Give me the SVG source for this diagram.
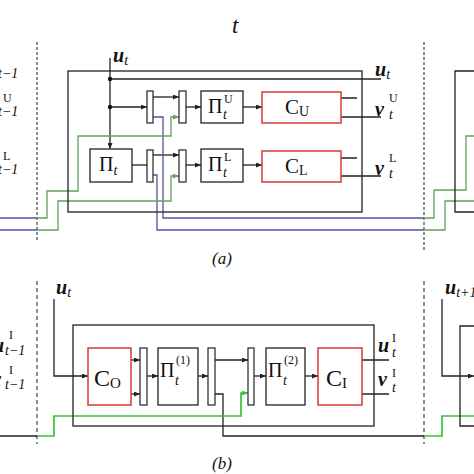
<svg xmlns="http://www.w3.org/2000/svg" width="474" height="474" viewBox="0 0 474 474">
<defs>
<style>
.ln{fill:none;stroke:#222;stroke-width:1.3}
.bl{fill:none;stroke:#5252a3;stroke-width:1.3}
.gr{fill:none;stroke:#5ea35e;stroke-width:1.3}
.gb{fill:none;stroke:#36c436;stroke-width:1.7}
.dash{fill:none;stroke:#444;stroke-width:1.2;stroke-dasharray:3 2}
.box{fill:#fff;stroke:#222;stroke-width:1.3}
.red{fill:#fff;stroke:#d43a3a;stroke-width:1.5}
.bar{fill:#fff;stroke:#222;stroke-width:1.2}
.fr{fill:none;stroke:#222;stroke-width:1.3}
text{font-family:"Liberation Serif","DejaVu Serif",serif;fill:#111}
.mi{font-style:italic}
.bi{font-style:italic;font-weight:bold}
</style>
<marker id="ak" markerUnits="userSpaceOnUse" markerWidth="6" markerHeight="5" refX="6" refY="2.5" orient="auto"><path d="M0,0 L6,2.5 L0,5 z" fill="#222"/></marker>
<marker id="ag" markerUnits="userSpaceOnUse" markerWidth="6" markerHeight="5" refX="6" refY="2.5" orient="auto"><path d="M0,0 L6,2.5 L0,5 z" fill="#5ea35e"/></marker>
<marker id="ag2" markerUnits="userSpaceOnUse" markerWidth="6" markerHeight="5" refX="6" refY="2.5" orient="auto"><path d="M0,0 L6,2.5 L0,5 z" fill="#36c436"/></marker>
</defs>

<text x="232" y="33" class="mi" font-size="23">t</text>

<!-- dashed separators -->
<g id="separators">
<path class="dash" d="M37,42 V241 M424,42 V251"/>
<path class="dash" d="M37,281 V444 M424,281 V444" style="stroke-dasharray:4 3"/>
</g>

<!-- connectors -->
<g id="connectors">
<!-- (a) -->
<path class="ln" d="M110,58 V149" marker-end="url(#ak)"/>
<path class="ln" d="M110,79 H381"/>
<path class="ln" d="M110,107 H147" marker-end="url(#ak)"/>
<path class="ln" d="M153,97 H179" marker-end="url(#ak)"/>
<path class="ln" d="M186,107 H201" marker-end="url(#ak)"/>
<path class="ln" d="M243,107 H262" marker-end="url(#ak)"/>
<path class="ln" d="M341,98 H357 M341,117 H381"/>
<path class="ln" d="M132,165 H147"/>
<path class="ln" d="M153,155 H179" marker-end="url(#ak)"/>
<path class="ln" d="M186,165 H201" marker-end="url(#ak)"/>
<path class="ln" d="M243,165 H262" marker-end="url(#ak)"/>
<path class="ln" d="M341,158 H357 M341,176 H381"/>
<path class="bl" d="M153,117 H163 V218 H424"/>
<path class="bl" d="M153,175 H157 V230 H424"/>
<path class="bl" d="M0,218 H37 M0,230 H37"/>
<path class="gr" d="M37,218 H47 V191 H78 V136 H171 V117 H179" marker-end="url(#ag)"/>
<path class="gr" d="M37,230 H58 V201 H171 V176 H179" marker-end="url(#ag)"/>
<path class="gr" d="M424,218 H434 V190 H466 V136 H474"/>
<path class="gr" d="M424,230 H445 V201 H474"/>
<!-- (b) -->
<path class="ln" d="M54,299 V376 H88" marker-end="url(#ak)"/>
<path class="ln" d="M131,360 H140" marker-end="url(#ak)"/>
<path class="ln" d="M131,394 H140" marker-end="url(#ak)"/>
<path class="ln" d="M147,376 H158" marker-end="url(#ak)"/>
<path class="ln" d="M198,376 H208" marker-end="url(#ak)"/>
<path class="ln" d="M215,360 H248" marker-end="url(#ak)"/>
<path class="ln" d="M215,394 H223 V436 H424"/>
<path class="ln" d="M0,436 H37"/>
<path class="gb" d="M37,436 H54 V416 H241 V393 H248" marker-end="url(#ag2)"/>
<path class="gb" d="M424,436 H442 V416 H474"/>
<path class="ln" d="M254,376 H266" marker-end="url(#ak)"/>
<path class="ln" d="M305,376 H318" marker-end="url(#ak)"/>
<path class="ln" d="M362,360 H389 M362,394 H389"/>
<path class="ln" d="M442,299 V376 H474" marker-end="url(#ak)"/>
</g>

<!-- frames -->
<g id="frame-a">
<rect class="fr" x="68" y="71" width="294" height="141"/>
<path class="fr" d="M474,71 H455 V212 H474"/>
</g>
<g id="frame-b">
<rect class="fr" x="73" y="325" width="301" height="101"/>
<path class="fr" d="M474,326 H460 V426 H474"/>
</g>

<!-- dots -->
<g id="junctions">
<circle cx="110" cy="79" r="2.2" fill="#111"/>
<circle cx="110" cy="107" r="2.2" fill="#111"/>
</g>

<!-- (a) nodes -->
<g id="bar-a1u"><rect class="bar" x="147" y="91" width="6" height="32"/></g>
<g id="bar-a2u"><rect class="bar" x="179" y="91" width="7" height="32"/></g>
<g id="bar-a1l"><rect class="bar" x="147" y="150" width="6" height="32"/></g>
<g id="bar-a2l"><rect class="bar" x="179" y="150" width="7" height="32"/></g>

<g id="pi-t">
<rect class="box" x="90" y="149" width="42" height="33"/>
<text x="99" y="171" font-size="20">Π<tspan class="mi" font-size="14" dy="4">t</tspan></text>
</g>
<g id="pi-u">
<rect class="box" x="201" y="91" width="42" height="32"/>
<text x="208" y="113" font-size="20">Π</text>
<text x="224" y="103" font-size="12">U</text>
<text x="223" y="119" class="mi" font-size="14">t</text>
</g>
<g id="pi-l">
<rect class="box" x="201" y="149" width="42" height="33"/>
<text x="208" y="171" font-size="20">Π</text>
<text x="224" y="161" font-size="12">L</text>
<text x="223" y="177" class="mi" font-size="14">t</text>
</g>
<g id="c-u">
<rect class="red" x="262" y="92" width="79" height="31"/>
<text x="285" y="114" font-size="21">C<tspan font-size="14" dy="2">U</tspan></text>
</g>
<g id="c-l">
<rect class="red" x="262" y="151" width="79" height="31"/>
<text x="285" y="173" font-size="21">C<tspan font-size="14" dy="2">L</tspan></text>
</g>

<!-- (a) labels -->
<g id="labels-a">
<text x="113" y="62" class="bi" font-size="20">u<tspan class="mi" font-weight="normal" font-size="14" dy="3">t</tspan></text>
<text x="375" y="76" class="bi" font-size="20">u<tspan class="mi" font-weight="normal" font-size="14" dy="3">t</tspan></text>
<text x="375" y="116" class="bi" font-size="20">v</text>
<text x="389" y="102" font-size="12">U</text>
<text x="389" y="119" class="mi" font-size="14">t</text>
<text x="375" y="175" class="bi" font-size="20">v</text>
<text x="389" y="162" font-size="12">L</text>
<text x="389" y="178" class="mi" font-size="14">t</text>
<text x="-2" y="78" class="mi" font-size="14">t−1</text>
<text x="3" y="102" font-size="12">U</text>
<text x="-2" y="116" class="mi" font-size="14">t−1</text>
<text x="3" y="160" font-size="12">L</text>
<text x="-2" y="174" class="mi" font-size="14">t−1</text>
<text x="222" y="264" class="mi" font-size="17" text-anchor="middle">(a)</text>
</g>

<!-- (b) nodes -->
<g id="c-o">
<rect class="red" x="88" y="348" width="43" height="57"/>
<text x="94" y="386" font-size="24">C<tspan font-size="15" dy="2">O</tspan></text>
</g>
<g id="bar-b1"><rect class="bar" x="140" y="348" width="7" height="57"/></g>
<g id="pi-1">
<rect class="box" x="158" y="348" width="40" height="57"/>
<text x="160" y="377" font-size="20">Π</text>
<text x="176" y="364" font-size="12">(1)</text>
<text x="175" y="385" class="mi" font-size="14">t</text>
</g>
<g id="bar-b2"><rect class="bar" x="208" y="348" width="7" height="57"/></g>
<g id="bar-b3"><rect class="bar" x="248" y="348" width="6" height="57"/></g>
<g id="pi-2">
<rect class="box" x="266" y="348" width="39" height="57"/>
<text x="268" y="377" font-size="20">Π</text>
<text x="284" y="364" font-size="12">(2)</text>
<text x="283" y="385" class="mi" font-size="14">t</text>
</g>
<g id="c-i">
<rect class="red" x="318" y="348" width="44" height="57"/>
<text x="326" y="386" font-size="24">C<tspan font-size="15" dy="2">I</tspan></text>
</g>

<!-- (b) labels -->
<g id="labels-b">
<text x="56" y="294" class="bi" font-size="20">u<tspan class="mi" font-weight="normal" font-size="14" dy="3">t</tspan></text>
<text x="445" y="294" class="bi" font-size="20">u<tspan class="mi" font-weight="normal" font-size="14" dy="3">t+1</tspan></text>
<text x="378" y="352" class="bi" font-size="20">u</text>
<text x="392" y="342" font-size="12">I</text>
<text x="392" y="357" class="mi" font-size="14">t</text>
<text x="378" y="386" class="bi" font-size="20">v</text>
<text x="392" y="377" font-size="12">I</text>
<text x="392" y="392" class="mi" font-size="14">t</text>
<text x="-7" y="352" class="bi" font-size="20">u</text>
<text x="9" y="339" font-size="12">I</text>
<text x="5" y="355" class="mi" font-size="14">t−1</text>
<text x="-8" y="386" class="bi" font-size="20">v</text>
<text x="9" y="374" font-size="12">I</text>
<text x="5" y="389" class="mi" font-size="14">t−1</text>
<text x="222" y="469" class="mi" font-size="17" text-anchor="middle">(b)</text>
</g>
</svg>
